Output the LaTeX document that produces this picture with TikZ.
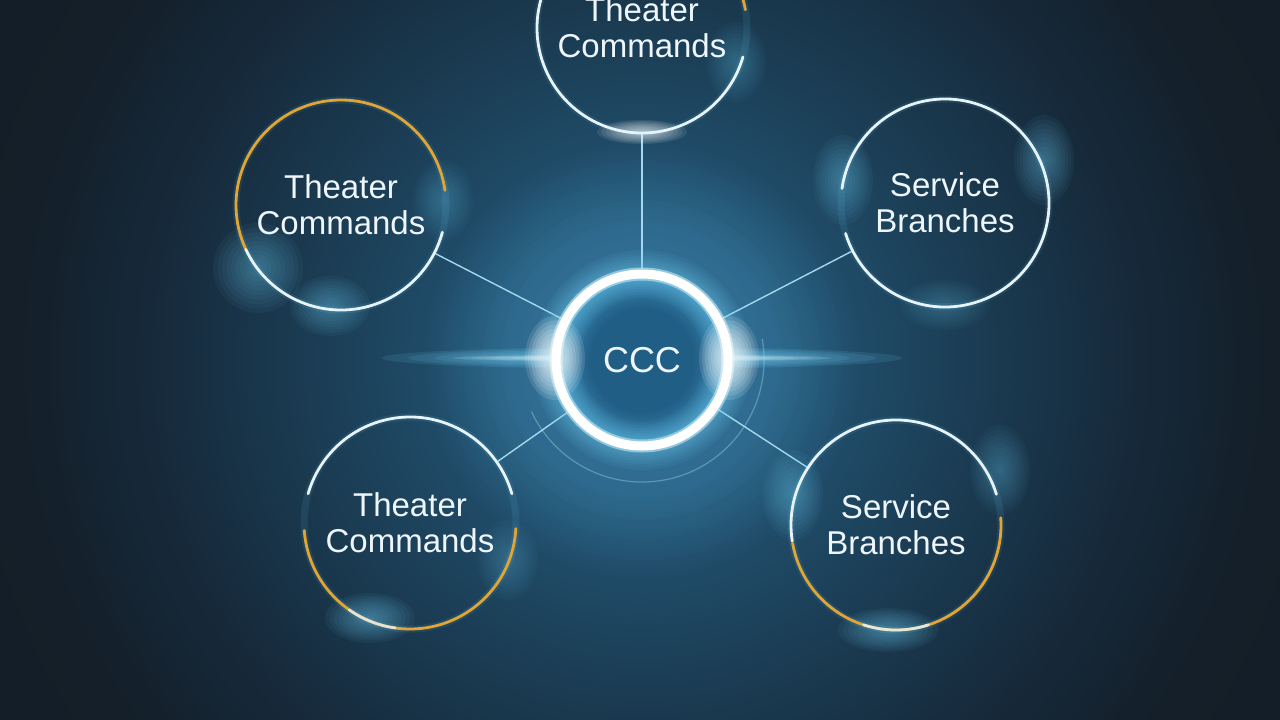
\documentclass[tikz,border=0pt]{standalone}
\usepackage{fontspec}
\setmainfont{Liberation Sans}
\definecolor{bgdark}{HTML}{111C25}
\definecolor{bgc0}{HTML}{2F6F95}
\definecolor{bgc1}{HTML}{2A6488}
\definecolor{bgc2}{HTML}{1F4A66}
\definecolor{bgc3}{HTML}{1A3A50}
\definecolor{bgc4}{HTML}{16293A}
\definecolor{bgc5}{HTML}{141F29}
\definecolor{arcwhite}{HTML}{E6F3F9}
\definecolor{arcgold}{HTML}{E2A534}
\definecolor{glowcyan}{HTML}{6FCDF2}
\definecolor{connc}{HTML}{A3D8EE}
\definecolor{txtc}{HTML}{EEF6FB}
\definecolor{hubin}{HTML}{215E86}
\definecolor{hubout}{HTML}{3A88B2}
% a shaded path's bounding box maps to the central 50bp square of the shading
\pgfdeclareradialshading{bgglow}{\pgfpoint{0bp}{0bp}}{color(0bp)=(bgc0); color(5bp)=(bgc1); color(8.5bp)=(bgc2); color(13.5bp)=(bgc3); color(19bp)=(bgc4); color(24bp)=(bgc5); color(35bp)=(bgdark); color(50bp)=(bgdark)}
\pgfdeclareradialshading{hubfill}{\pgfpoint{0bp}{0bp}}{color(0bp)=(hubin); color(15bp)=(hubin); color(25bp)=(hubout); color(50bp)=(hubout)}
\newcommand\glowat[5]{\foreach \k in {1,...,10}{\fill[#4, opacity=#5] (#1) ellipse ({#2*\k/10} and {#3*\k/10});}}
\tikzset{
  sat/.style={circle, minimum size=210pt, inner sep=0pt, outer sep=0pt, align=center,
    text=txtc, font=\fontsize{33pt}{36pt}\selectfont},
  hub/.style={circle, minimum size=172pt, inner sep=0pt, outer sep=5pt},
  whitearc/.style={draw=arcwhite, line width=2.8pt, line cap=round},
  goldarc/.style={draw=arcgold, line width=2.8pt, line cap=round},
  arcglow/.style={draw=glowcyan, line width=7pt, opacity=0.10},
  conn/.style={draw=connc, line width=1.4pt},
}
\begin{document}
\begin{tikzpicture}[x=1pt, y=1pt]
\useasboundingbox (0,0) rectangle (1280,-720);
\clip (0,0) rectangle (1280,-720);
% background
\fill[bgdark] (0,0) rectangle (1280,-720);
\shade[shading=bgglow] (-8,290) rectangle (1292,-1010);
% soft glow around hub
\glowat{642,-360}{200}{200}{glowcyan}{0.02}
% horizontal flare
\glowat{642,-358}{260}{11}{glowcyan}{0.12}
\glowat{642,-358}{190}{3.5}{white}{0.12}

% nodes
\node[hub] (ccc) at (642,-360) {};
\node[sat] (top) at (642,-28) {};
\node[sat] (ul) at (341,-205) {};
\node[sat] (ur) at (945,-203) {};
\node[sat] (ll) at (410,-523) {};
\node[sat] (lr) at (896,-525) {};

% hub interior
\shade[shading=hubfill] (ccc.center) circle (86);

% connectors
\draw[conn] (ccc) -- (top);
\draw[conn] (ccc) -- (ul);
\draw[conn] (ccc) -- (ur);
\draw[conn] (ccc) -- (ll);
\draw[conn] (ccc) -- (lr);

% faint outer arc around hub
\draw[draw=connc, line width=1.2pt, opacity=0.4] ([shift={(10:122)}]ccc.center) arc[start angle=10, end angle=-155, radius=122];

% hub ring with glow
\foreach \w in {48,42,36,30,25,20,16}{\draw[draw=glowcyan, line width=\w pt, opacity=0.07] (ccc.center) circle (86);}
\draw[draw=glowcyan!40!white, line width=13pt, opacity=0.6] (ccc.center) circle (86);
\draw[draw=white, line width=9pt] (ccc.center) circle (86);
\glowat{555,-358}{30}{42}{white}{0.12}
\glowat{729,-358}{30}{42}{white}{0.12}

% glows on satellite circles
\glowat{258,-268}{45}{45}{glowcyan}{0.05}
\glowat{330,-306}{40}{30}{glowcyan}{0.05}
\glowat{443,-200}{30}{40}{glowcyan}{0.035}
\glowat{642,-132}{45}{12}{white}{0.09}
\glowat{736,-62}{30}{40}{glowcyan}{0.035}
\glowat{843,-180}{30}{45}{glowcyan}{0.05}
\glowat{1044,-160}{30}{45}{glowcyan}{0.05}
\glowat{945,-305}{45}{25}{glowcyan}{0.03}
\glowat{370,-618}{45}{25}{glowcyan}{0.06}
\glowat{508,-560}{30}{40}{glowcyan}{0.03}
\glowat{793,-495}{30}{45}{glowcyan}{0.05}
\glowat{888,-630}{50}{22}{glowcyan}{0.06}
\glowat{1000,-470}{30}{45}{glowcyan}{0.04}

% arcs: upper left
\draw[arcglow] (ul.center) circle (105);
\draw[goldarc] ([shift={(8:105)}]ul.center) arc[start angle=8, end angle=205, radius=105];
\draw[whitearc] ([shift={(205:105)}]ul.center) arc[start angle=205, end angle=345, radius=105];
% top
\draw[arcglow] (top.center) circle (105);
\draw[goldarc] ([shift={(10:105)}]top.center) arc[start angle=10, end angle=140, radius=105];
\draw[whitearc] ([shift={(150:105)}]top.center) arc[start angle=150, end angle=344, radius=105];
% upper right
\draw[arcglow] (ur.center) circle (104);
\draw[whitearc] ([shift={(197:104)}]ur.center) arc[start angle=197, end angle=532, radius=104];
% lower left
\draw[arcglow] (ll.center) circle (106);
\draw[whitearc] ([shift={(16:106)}]ll.center) arc[start angle=16, end angle=164, radius=106];
\draw[goldarc] ([shift={(184:106)}]ll.center) arc[start angle=184, end angle=357, radius=106];
\draw[whitearc, opacity=0.8] ([shift={(235:106)}]ll.center) arc[start angle=235, end angle=262, radius=106];
% lower right
\draw[arcglow] (lr.center) circle (105);
\draw[whitearc] ([shift={(17:105)}]lr.center) arc[start angle=17, end angle=189, radius=105];
\draw[goldarc] ([shift={(190:105)}]lr.center) arc[start angle=190, end angle=364, radius=105];
\draw[whitearc, opacity=0.85] ([shift={(252:105)}]lr.center) arc[start angle=252, end angle=288, radius=105];

% texts
\node[text=txtc, font=\fontsize{36pt}{40pt}\selectfont] at (ccc.center) {CCC};
\node[sat] at (top.center) {Theater\\Commands};
\node[sat] at (ul.center) {Theater\\Commands};
\node[sat] at (ur.center) {Service\\Branches};
\node[sat] at (ll.center) {Theater\\Commands};
\node[sat] at (lr.center) {Service\\Branches};
\end{tikzpicture}
\end{document}
